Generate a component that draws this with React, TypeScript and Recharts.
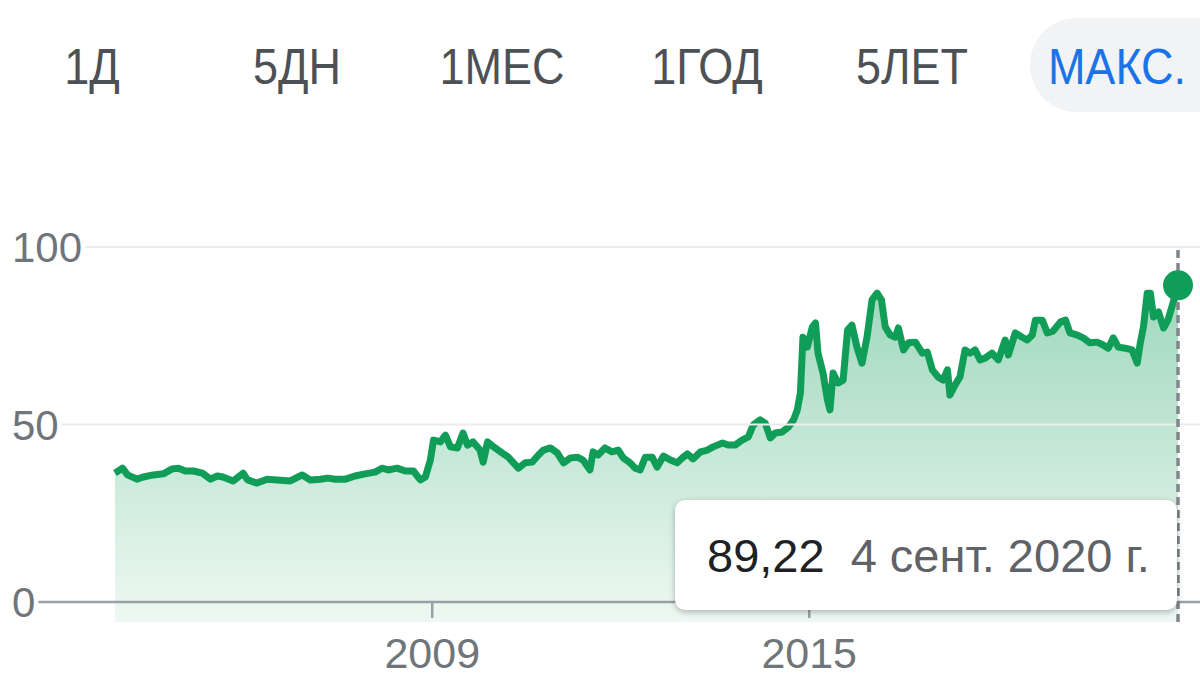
import React from 'react';
import { AreaChart, Area, XAxis, YAxis, ReferenceLine, ReferenceDot } from 'recharts';

// Range selector tabs above the chart
const periods = ['1Д', '5ДН', '1МЕС', '1ГОД', '5ЛЕТ', 'МАКС.'];
const activePeriod = 'МАКС.';

// Time as fractional years, price per share
const dates = [
  2003.95, 2004.07, 2004.15, 2004.30, 2004.40, 2004.56, 2004.72, 2004.86, 2004.96, 2005.07,
  2005.20, 2005.34, 2005.47, 2005.58, 2005.67, 2005.83, 2005.99, 2006.06, 2006.21, 2006.37,
  2006.53, 2006.74, 2006.93, 2007.06, 2007.22, 2007.34, 2007.46, 2007.62, 2007.77, 2007.93,
  2008.09, 2008.20, 2008.30, 2008.44, 2008.57, 2008.70, 2008.81, 2008.89, 2008.97, 2009.02,
  2009.13, 2009.21, 2009.29, 2009.40, 2009.49, 2009.56, 2009.65, 2009.76, 2009.81, 2009.88,
  2010.00, 2010.11, 2010.21, 2010.37, 2010.48, 2010.59, 2010.69, 2010.77, 2010.88, 2010.99,
  2011.09, 2011.20, 2011.31, 2011.40, 2011.51, 2011.56, 2011.64, 2011.75, 2011.86, 2011.96,
  2012.04, 2012.15, 2012.23, 2012.31, 2012.39, 2012.50, 2012.58, 2012.68, 2012.79, 2012.90,
  2012.98, 2013.06, 2013.15, 2013.27, 2013.38, 2013.47, 2013.62, 2013.71, 2013.82, 2013.93,
  2014.03, 2014.11, 2014.22, 2014.30, 2014.38, 2014.46, 2014.57, 2014.67, 2014.75, 2014.81,
  2014.86, 2014.90, 2014.97, 2015.05, 2015.10, 2015.14, 2015.22, 2015.29, 2015.33, 2015.38,
  2015.46, 2015.54, 2015.61, 2015.68, 2015.76, 2015.84, 2015.92, 2016.00, 2016.08, 2016.15,
  2016.21, 2016.29, 2016.37, 2016.42, 2016.50, 2016.58, 2016.69, 2016.80, 2016.88, 2016.96,
  2017.05, 2017.13, 2017.20, 2017.24, 2017.32, 2017.40, 2017.48, 2017.56, 2017.64, 2017.72,
  2017.80, 2017.91, 2018.01, 2018.12, 2018.17, 2018.28, 2018.39, 2018.47, 2018.55, 2018.60,
  2018.71, 2018.79, 2018.88, 2019.00, 2019.08, 2019.15, 2019.27, 2019.36, 2019.47, 2019.58,
  2019.68, 2019.76, 2019.84, 2019.92, 2020.03, 2020.14, 2020.22, 2020.27, 2020.32, 2020.38,
  2020.43, 2020.48, 2020.56, 2020.64, 2020.71, 2020.79, 2020.87,
];
const prices = [
  36.3, 37.7, 35.8, 34.6, 35.2, 35.8, 36.1, 37.5, 37.7, 36.9,
  36.9, 36.3, 34.6, 35.5, 35.2, 34.1, 36.3, 34.4, 33.5, 34.6,
  34.4, 34.1, 35.8, 34.4, 34.6, 34.9, 34.6, 34.6, 35.5, 36.1,
  36.6, 37.7, 37.2, 37.7, 36.9, 36.9, 34.4, 35.2, 40.0, 45.6,
  45.1, 47.0, 43.7, 43.4, 47.6, 44.2, 45.1, 42.8, 39.4, 45.1,
  43.4, 42.0, 40.8, 37.7, 39.2, 39.4, 41.4, 42.8, 43.4, 42.0,
  39.2, 40.6, 40.8, 40.0, 37.2, 42.3, 41.4, 43.4, 42.3, 42.8,
  40.6, 39.2, 37.7, 37.2, 40.8, 40.8, 38.0, 41.1, 40.0, 39.2,
  40.6, 41.7, 40.3, 42.3, 42.8, 43.7, 44.8, 44.2, 44.2, 45.6,
  46.5, 49.9, 51.3, 50.4, 46.2, 47.6, 47.9, 49.3, 51.3, 54.1,
  58.9, 74.6, 71.8, 77.5, 78.6, 70.1, 64.5, 56.9, 54.1, 64.5,
  61.7, 62.5, 76.6, 78.0, 71.8, 67.3, 74.6, 85.1, 87.0, 85.1,
  77.5, 75.2, 74.6, 77.2, 71.0, 73.0, 73.2, 70.1, 70.4, 65.4,
  63.4, 62.5, 65.4, 58.3, 61.1, 63.4, 71.0, 70.1, 71.0, 68.2,
  68.7, 70.1, 68.2, 73.8, 69.6, 75.8, 74.6, 73.8, 75.2, 79.4,
  79.4, 75.8, 76.3, 78.9, 79.4, 75.8, 75.2, 74.4, 73.0, 73.2,
  72.4, 71.5, 74.4, 71.8, 71.5, 71.0, 67.3, 73.0, 77.5, 87.0,
  87.0, 80.3, 81.7, 77.2, 79.4, 84.2, 89.22,
];

const yTicks = [100, 50, 0];
const xTicks = [2009, 2015];
const lastDateLabel = '4 сент. 2020 г.';

const GREEN = '#0f9d58';
const FONT = 'Arial, "Liberation Sans", sans-serif';

const data = dates.map((t, i) => ({ t, price: prices[i] }));
const last = data[data.length - 1];

// price label at the left end of a horizontal rule; the white box hides the rule behind it
function PriceLabel({ viewBox, value }: any) {
  const w = 12 + String(value).length * 23.4 + 3;
  return (
    <g>
      <rect x={viewBox.x} y={viewBox.y - 20} width={w} height={40} fill="#fff" />
      <text x={viewBox.x + 12} y={viewBox.y + 15} textAnchor="start" fontSize={42} fontFamily={FONT} fill="#70757a">
        {value}
      </text>
    </g>
  );
}

function YearTick({ x, y, payload }: any) {
  return (
    <g>
      <line x1={x} x2={x} y1={y - 20} y2={y - 4} stroke="#9aa0a6" strokeWidth={2.5} />
      <text x={x} y={y + 46} textAnchor="middle" fontSize={43} fontFamily={FONT} fill="#70757a">
        {payload.value}
      </text>
    </g>
  );
}

export default function App() {
  return (
    <div
      style={{
        position: 'fixed',
        left: 0,
        top: 0,
        width: 1200,
        height: 675,
        background: '#fff',
        overflow: 'hidden',
        fontFamily: FONT,
      }}
    >
      <div
        style={{
          position: 'absolute',
          left: 1030,
          top: 18,
          width: 220,
          height: 94,
          borderRadius: 47,
          background: '#f1f3f4',
        }}
      />
      {periods.map((p, i) => (
        <div
          key={p}
          style={{
            position: 'absolute',
            left: 91.5 + i * 205 - 100,
            top: 20,
            width: 200,
            height: 94,
            lineHeight: '94px',
            textAlign: 'center',
            fontSize: 50,
            color: p === activePeriod ? '#1a73e8' : '#4d5156',
            transform: 'scaleX(0.9)',
          }}
        >
          {p}
        </div>
      ))}

      <div style={{ position: 'absolute', left: 0, top: 0 }}>
        <AreaChart width={1200} height={700} data={data} margin={{ top: 247, right: 0, bottom: 25, left: 0 }}>
          <defs>
            <linearGradient id="priceFill" x1="0" y1="0" x2="0" y2="1">
              <stop offset="0%" stopColor={GREEN} stopOpacity={0.4} />
              <stop offset="100%" stopColor={GREEN} stopOpacity={0.07} />
            </linearGradient>
          </defs>
          <XAxis
            dataKey="t"
            type="number"
            domain={[2002.12, 2021.22]}
            ticks={xTicks}
            interval={0}
            axisLine={false}
            tickLine={false}
            tickSize={0}
            tickMargin={0}
            height={53}
            tick={<YearTick />}
            allowDataOverflow
          />
          <YAxis type="number" domain={[-5.63, 100]} ticks={yTicks} hide allowDataOverflow />
          <Area
            type="linear"
            dataKey="price"
            stroke={GREEN}
            strokeWidth={7}
            strokeLinejoin="round"
            fill="url(#priceFill)"
            fillOpacity={1}
            baseValue="dataMin"
            dot={false}
            activeDot={false}
            isAnimationActive={false}
          />
          {yTicks.map((v) => (
            <ReferenceLine
              key={v}
              y={v}
              stroke={v === 0 ? '#9aa0a6' : '#ececec'}
              strokeWidth={v === 0 ? 2.5 : 2}
              label={<PriceLabel value={v} />}
            />
          ))}
          <ReferenceLine x={last.t} stroke="#80868b" strokeWidth={3.5} strokeDasharray="8 5" />
          <ReferenceDot x={last.t} y={last.price} r={15} fill={GREEN} stroke="none" />
        </AreaChart>
      </div>

      <div
        style={{
          position: 'absolute',
          left: 675,
          top: 500,
          width: 502,
          height: 110,
          background: '#fff',
          borderRadius: 10,
          boxShadow: '0 2px 6px rgba(0,0,0,0.28)',
          display: 'flex',
          alignItems: 'center',
          paddingLeft: 32,
          boxSizing: 'border-box',
          fontSize: 47,
          whiteSpace: 'nowrap',
        }}
      >
        <span style={{ color: '#202124' }}>{last.price.toFixed(2).replace('.', ',')}</span>
        <span style={{ color: '#5f6368', marginLeft: 26 }}>{lastDateLabel}</span>
      </div>
    </div>
  );
}
